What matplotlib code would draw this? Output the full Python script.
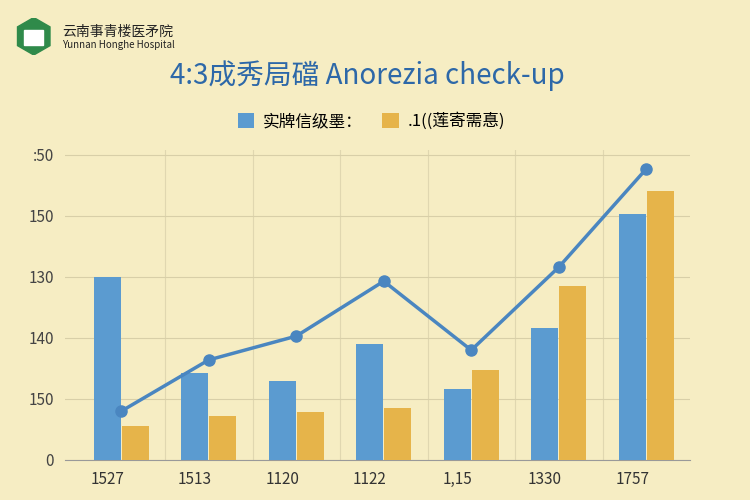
import matplotlib
matplotlib.use("Agg")
import matplotlib.pyplot as plt
from matplotlib.patches import Rectangle, RegularPolygon
import numpy as np

plt.rcParams['font.family'] = ['Noto Sans CJK SC', 'DejaVu Sans']

categories = ["1527", "1513", "1120", "1122", "1,15", "1330", "1757"]
blue_vals = [3.0, 1.43, 1.30, 1.90, 1.16, 2.16, 4.03]
orange_vals = [0.56, 0.72, 0.79, 0.85, 1.48, 2.85, 4.41]
line_vals = [0.80, 1.64, 2.03, 2.93, 1.80, 3.16, 4.77]
ytick_vals = [0, 1, 2, 3, 4, 5]
ytick_labels = ["0", "150", "140", "130", "150", ":50"]
legend_labels = ["实牌信级墨：", ".1((莲寄需惪)"]

bg = "#f6edc3"
blue = "#5b9bd0"
orange = "#e6b44a"
lineblue = "#4a86c0"

fig = plt.figure(figsize=(7.5, 5), dpi=100, facecolor=bg)
ax = fig.add_axes([0.087, 0.08, 0.833, 0.62], facecolor=bg)
x = np.arange(len(categories))
w = 0.31
ax.bar(x - 0.16, blue_vals, w, color=blue, zorder=3, label=legend_labels[0])
ax.bar(x + 0.16, orange_vals, w, color=orange, zorder=3, label=legend_labels[1])
ax.plot(x, line_vals, color=lineblue, lw=2.5, marker="o", ms=8, zorder=4)

ax.set_xlim(-0.64, 6.5)
ax.set_ylim(0, 5.08)
ax.set_yticks(ytick_vals)
ax.set_yticklabels(ytick_labels, color="#444", fontsize=11)
ax.set_xticks(x - 0.16)
ax.set_xticklabels(categories, color="#333", fontsize=11)
ax.tick_params(length=0, pad=8)
for s in ["top", "right", "left"]:
    ax.spines[s].set_visible(False)
ax.spines["bottom"].set_color("#999")
ax.yaxis.grid(True, color="#d8cfa8", lw=0.8, zorder=0)
for xv in np.arange(0.5, 6.5, 1):
    ax.axvline(xv, color="#e0d7b0", lw=0.8, zorder=0)

fig.legend(handles=ax.patches[:1] + ax.patches[7:8], labels=legend_labels,
           loc="center", bbox_to_anchor=(0.495, 0.757), ncol=2, frameon=False,
           fontsize=12, handlelength=1, handleheight=1, columnspacing=1.2,
           handletextpad=0.5)

fig.text(0.49, 0.848, "4:3成秀局礑 Anorezia check-up", ha="center", va="center",
         fontsize=20, color="#2d68a8")

# logo
logo_ax = fig.add_axes([0.02, 0.89, 0.05, 0.075])
logo_ax.set_xlim(-1, 1); logo_ax.set_ylim(-1, 1); logo_ax.set_aspect("equal")
logo_ax.axis("off")
logo_ax.add_patch(RegularPolygon((0, 0), 6, radius=1, color="#2f8a4a"))
logo_ax.add_patch(Rectangle((-0.5, -0.45), 1.0, 0.8, color="white"))
fig.text(0.083, 0.937, "云南事青楼医矛院", fontsize=10, color="#222", va="center")
fig.text(0.083, 0.91, "Yunnan Honghe Hospital", fontsize=7, color="#222", va="center")

fig.savefig("out.png", dpi=100, facecolor=bg)
